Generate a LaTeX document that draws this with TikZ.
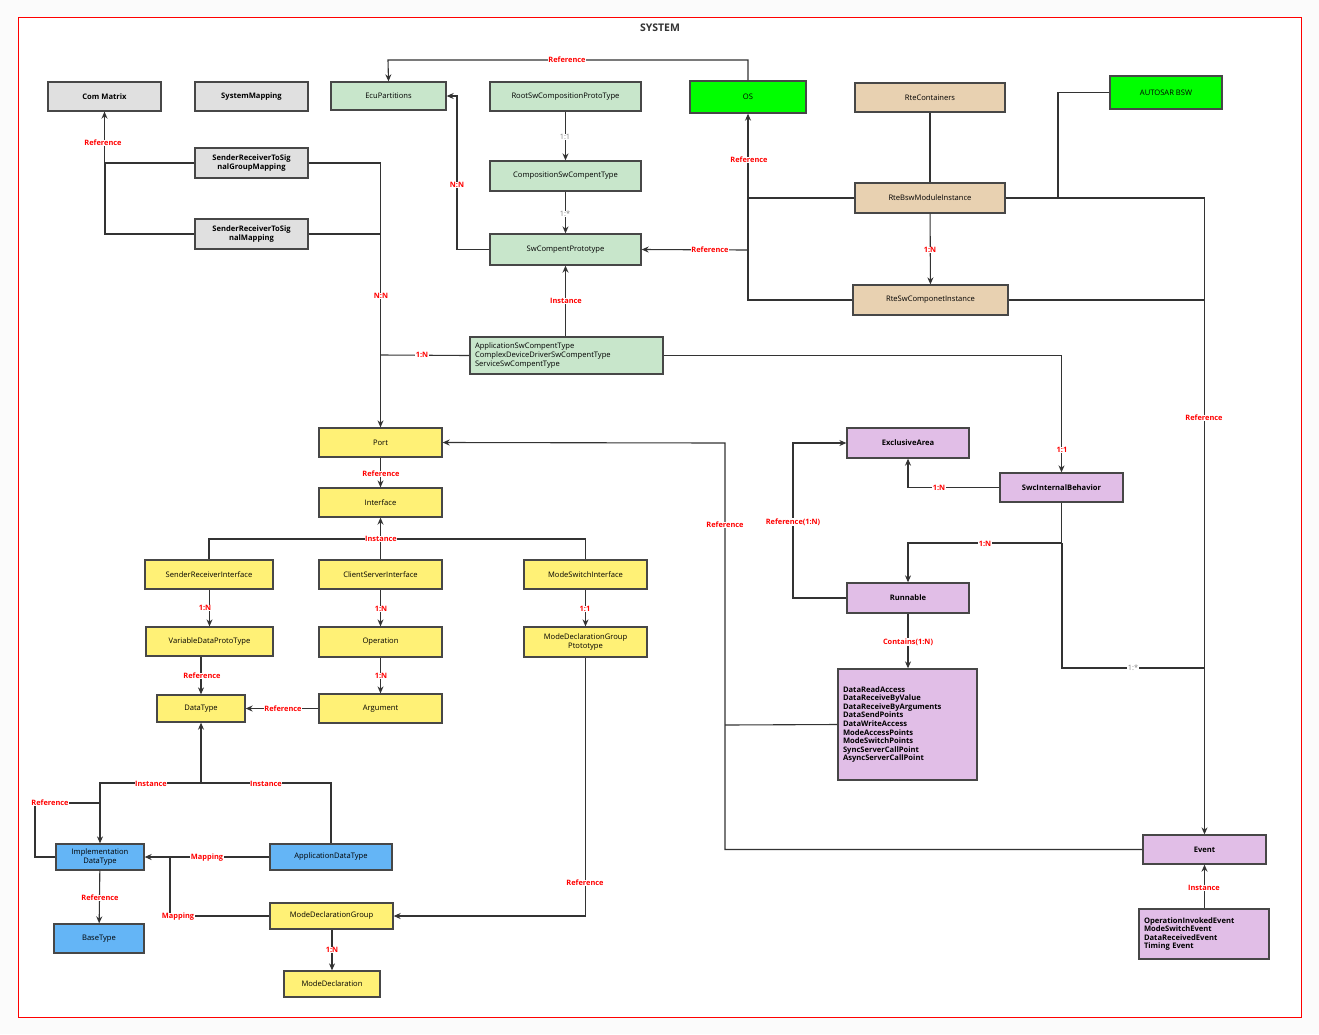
\documentclass[tikz,border=0pt]{standalone}
\usepackage{fontspec}
\setmainfont{Open Sans}
\usetikzlibrary{arrows.meta}
\definecolor{cgray}{HTML}{E0E0E0}
\definecolor{cgreen}{HTML}{C8E6CB}
\definecolor{cbright}{HTML}{00FF00}
\definecolor{ctan}{HTML}{E8D1B1}
\definecolor{cyel}{HTML}{FFF176}
\definecolor{cblue}{HTML}{64B5F6}
\definecolor{cpur}{HTML}{E1BEE7}
\definecolor{cline}{HTML}{333333}
\definecolor{cred}{HTML}{FF0000}
\newcommand\bx[7]{\node[bxs,#6, minimum width={(#4-#2)*1pt}, minimum height={(#5-#3)*1pt}] (#1) at ({(#2+#4)/2},{(#3+#5)/2}) {#7};}
\tikzset{
 bxs/.style={draw=cline!90, line width=1.3pt, inner sep=1pt, font=\fontsize{7.6}{9}\selectfont, align=center},
 bgray/.style={fill=cgray, font=\fontsize{7.6}{9}\selectfont\bfseries},
 bgreen/.style={fill=cgreen},
 bbright/.style={fill=cbright},
 btan/.style={fill=ctan},
 byel/.style={fill=cyel},
 bblue/.style={fill=cblue},
 bpur/.style={fill=cpur, font=\fontsize{7.6}{9}\selectfont\bfseries},
 ln/.style={draw=cline, line width=1.1pt},
 arr/.style={ln, -{Stealth[length=7pt,width=6pt]}},
 lbl/.style={fill=white, text=cred, inner sep=0.5pt, font=\fontsize{7.4}{8}\selectfont\bfseries},
 glbl/.style={fill=white, text=gray, inner sep=0.5pt, font=\fontsize{7.4}{8}\selectfont},
}
\begin{document}
\begin{tikzpicture}[x=1pt,y=-1pt]
\useasboundingbox (0,0) rectangle (1319,1034);
\fill[white!97!gray] (0,0) rectangle (1319,1034);
\draw[cred, line width=1pt, fill=white] (18,17) rectangle (1301,1017);
\node[font=\fontsize{10.5}{12}\selectfont\bfseries, text=cline] (title) at (660,28) {SYSTEM};
% boxes
\bx{com}{48}{82}{161}{111}{bgray}{Com Matrix}
\bx{sysm}{195}{82}{308}{111}{bgray}{SystemMapping}
\bx{ecu}{331}{82}{446}{110}{bgreen}{EcuPartitions}
\bx{root}{490}{82}{641}{111}{bgreen}{RootSwCompositionProtoType}
\bx{os}{690}{81}{806}{113}{bbright}{OS}
\bx{rtec}{855}{83}{1005}{112}{btan}{RteContainers}
\bx{bsw}{1110}{76}{1222}{109}{bbright}{AUTOSAR BSW}
\bx{srg}{195}{148}{308}{178}{bgray}{SenderReceiverToSig\\nalGroupMapping}
\bx{comp}{490}{161}{641}{191}{bgreen}{CompositionSwCompentType}
\bx{srm}{195}{219}{308}{249}{bgray}{SenderReceiverToSig\\nalMapping}
\bx{rteb}{855}{183}{1005}{213}{btan}{RteBswModuleInstance}
\bx{swp}{490}{234}{641}{265}{bgreen}{SwCompentPrototype}
\bx{rtes}{853}{285}{1008}{315}{btan}{RteSwComponetInstance}
\bx{app}{470}{337}{663}{374}{bgreen,align=left,text width=183pt,font=\fontsize{7.6}{8.6}\selectfont}{ApplicationSwCompentType\\ComplexDeviceDriverSwCompentType\\ServiceSwCompentType}
\bx{port}{319}{428}{442}{457}{byel}{Port}
\bx{intf}{319}{488}{442}{517}{byel}{Interface}
\bx{exa}{847}{428}{969}{458}{bpur}{ExclusiveArea}
\bx{sib}{1000}{473}{1123}{502}{bpur}{SwcInternalBehavior}
\bx{sri}{145}{560}{273}{589}{byel}{SenderReceiverInterface}
\bx{csi}{319}{560}{442}{589}{byel}{ClientServerInterface}
\bx{msi}{524}{560}{647}{589}{byel}{ModeSwitchInterface}
\bx{vdp}{146}{627}{273}{656}{byel}{VariableDataProtoType}
\bx{op}{319}{627}{442}{657}{byel}{Operation}
\bx{mdgp}{524}{627}{647}{657}{byel,font=\fontsize{7.6}{8.6}\selectfont}{ModeDeclarationGroup\\Ptototype}
\bx{run}{847}{583}{969}{613}{bpur}{Runnable}
\bx{dt}{157}{695}{245}{722}{byel}{DataType}
\bx{arg}{319}{694}{442}{723}{byel}{Argument}
\bx{rl}{838}{669}{977}{780}{bpur,align=left,text width=129pt,font=\fontsize{7.6}{8.6}\selectfont\bfseries}{DataReadAccess\\DataReceiveByValue\\DataReceiveByArguments\\DataSendPoints\\DataWriteAccess\\ModeAccessPoints\\ModeSwitchPoints\\SyncServerCallPoint\\AsyncServerCallPoint\\[9pt]}
\bx{idt}{56}{844}{144}{870}{bblue,font=\fontsize{7.6}{8.6}\selectfont}{Implementation\\DataType}
\bx{adt}{270}{844}{392}{870}{bblue}{ApplicationDataType}
\bx{mdg}{270}{903}{393}{929}{byel}{ModeDeclarationGroup}
\bx{bt}{54}{924}{144}{953}{bblue}{BaseType}
\bx{md}{284}{971}{380}{997}{byel}{ModeDeclaration}
\bx{ev}{1143}{835}{1266}{864}{bpur}{Event}
\bx{el}{1139}{909}{1269}{959}{bpur,align=left,text width=120pt,font=\fontsize{7.6}{8.6}\selectfont\bfseries}{OperationInvokedEvent\\ModeSwitchEvent\\DataReceivedEvent\\Timing Event}
% connectors top
\draw[arr] (os.north) |- (388,60) -- (ecu.north);
\node[lbl] (l1) at (567,60) {Reference};
\draw[arr] (swp.west) -| (457,96) -- (ecu.east);
\node[lbl] (l2) at (457,185) {N:N};
\draw[arr] (root) -- (comp); \node[glbl] (l3) at (565,137) {1:1};
\draw[arr] (comp) -- (swp); \node[glbl] (l4) at (565,214) {1:*};
\draw[arr] (app.north -| swp) -- (swp.south); \node[lbl] (l5) at (566,301) {Instance};
\draw[arr] (rtes.west) -| (os.south);
\draw[ln] (rteb.west) -- (748,198);
\node[lbl] (l6) at (749,160) {Reference};
\draw[arr] (748,250) -- (swp.east); \node[lbl] (l7) at (710,250) {Reference};
\draw[ln] (rtec) -- (rteb);
\draw[arr] (rteb) -- (rtes); \node[lbl] (l8) at (930,250) {1:N};
\draw[ln] (bsw.west) -| (1058,198);
\draw[arr] (rteb.east) -| (ev.north);
\draw[ln] (rtes.east) -- (1204,300);
\node[lbl] (l9) at (1204,418) {Reference};
% left top
\draw[arr] (srg.west) -| (com.south);
\draw[ln] (srm.west) -| (105,163);
\node[lbl] (l10) at (103,143) {Reference};
\draw[arr] (srg.east) -| (port.north);
\draw[ln] (srm.east) -- (381,234);
\node[lbl] (l11) at (381,296) {N:N};
\draw[ln] (app.west) -- (381,355); \node[lbl] (l12) at (422,355) {1:N};
\draw[arr] (app.east) -| (sib.north); \node[lbl] (l13) at (1062,450) {1:1};
% interfaces
\draw[arr] (port) -- (intf); \node[lbl] (l14) at (381,474) {Reference};
\draw[ln] (sri.north) |- (381,539) -| (msi.north);
\draw[arr] (csi.north) -- (intf.south); \node[lbl] (l15) at (381,539) {Instance};
\draw[arr] (sri.south -| vdp) -- (vdp.north); \node[lbl] (l16) at (205,608) {1:N};
\draw[arr] (csi) -- (op); \node[lbl] (l17) at (381,609) {1:N};
\draw[arr] (msi) -- (mdgp); \node[lbl] (l18) at (585,609) {1:1};
\draw[arr] (vdp.south -| dt) -- (dt.north); \node[lbl] (l19) at (202,676) {Reference};
\draw[arr] (op) -- (arg); \node[lbl] (l20) at (381,676) {1:N};
\draw[arr] (arg.west) -- (dt.east); \node[lbl] (l21) at (283,709) {Reference};
% data types
\draw[arr] (adt.north) |- (201,783) -- (dt.south);
\draw[ln] (201,783) -| (100,803);
\draw[arr] (idt.west) -| (35,803) -| (idt.north);
\node[lbl] (l22) at (151,784) {Instance};
\node[lbl] (l23) at (266,784) {Instance};
\node[lbl] (l24) at (50,803) {Reference};
\draw[arr] (adt.west) -- (idt.east); \node[lbl] (l25) at (207,858) {Mapping};
\draw[ln] (mdg.west) -| (170,857); \node[lbl] (l26) at (178,917) {Mapping};
\draw[arr] (idt) -- (bt); \node[lbl] (l27) at (100,898) {Reference};
\draw[arr] (mdgp.south) |- (mdg.east); \node[lbl] (l28) at (585,883) {Reference};
\draw[arr] (mdg.south -| md) -- (md.north); \node[lbl] (l29) at (332,950) {1:N};
% behavior
\draw[arr] (ev.west) -| (725,443) -- (port.east);
\draw[ln] (rl.west) -- (725,725);
\node[lbl] (l30) at (725,525) {Reference};
\draw[arr] (run.west) -| (793,443) -- (exa.west);
\node[lbl] (l31) at (793,522) {Reference(1:N)};
\draw[arr] (sib.west) -| (exa.south); \node[lbl] (l32) at (939,488) {1:N};
\draw[arr] (sib.south) |- (908,543) -- (run.north); \node[lbl] (l33) at (985,544) {1:N};
\draw[ln] (1062,543) |- (1204,668); \node[glbl] (l34) at (1133,668) {1:*};
\draw[arr] (run) -- (run |- rl.north); \node[lbl] (l35) at (908,642) {Contains(1:N)};
\draw[arr] (el.north -| ev) -- (ev.south); \node[lbl] (l36) at (1204,888) {Instance};
\end{tikzpicture}
\end{document}
